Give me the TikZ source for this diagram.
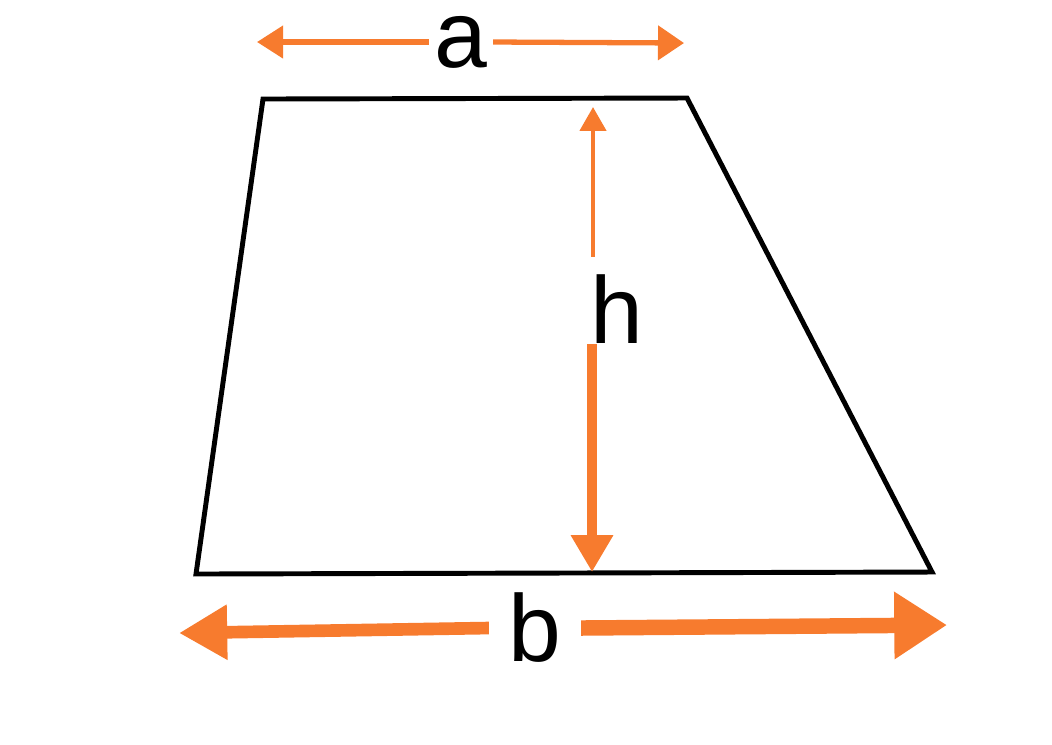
\documentclass[tikz,border=0pt]{standalone}
\usepackage{fontspec}
\setmainfont{Liberation Sans}
\usetikzlibrary{arrows.meta,calc}
\definecolor{carrot}{RGB}{247,123,46}
\tikzset{%
    dimtext/.style={inner sep=0pt, font=\fontsize{27}{32}\selectfont},
    dimline/.style={draw=carrot, line cap=butt}
}

\begin{document}
\begin{tikzpicture}[x=0.01cm,y=-0.01cm]
  \useasboundingbox (0,0) rectangle (1052,744);
  \draw[line width=1.4pt, line join=miter] (263,99) -- (687,98) -- (932,572) -- (196,574) -- cycle;
  % labels
  \node[dimtext, inner xsep=0.05cm] (a) at (461,42) {a};
  \node[dimtext] (h) at (617,309) {h};
  \node[dimtext, inner xsep=0.19cm] (b) at (535,628) {b};
  % free ends
  \coordinate (aL) at (257,42);
  \coordinate (aR) at (684,43);
  \coordinate (hT) at (593,107);
  \coordinate (hB) at (592,572);
  \coordinate (bL) at (179,633);
  \coordinate (bR) at (947,625);
  % arrows
  \draw[dimline, line width=1.5pt, -{Triangle[length=7.4pt,width=9pt]}] (a.west) -- (aL);
  \draw[dimline, line width=1.5pt, -{Triangle[length=7.4pt,width=9.6pt]}] (a.east) -- (aR);
  \draw[dimline, line width=1.2pt, -{Triangle[length=6.8pt,width=7.4pt]}] ($(h.north -| hT)+(0,-17)$) -- (hT);
  \draw[dimline, line width=2.8pt, -{Triangle[length=10.5pt,width=11.4pt]}] (h.south -| hB) -- (hB);
  \draw[dimline, line width=3.6pt, -{Triangle[length=13.7pt,width=14.8pt]}] (b.west) -- (bL);
  \draw[dimline, line width=4.4pt, -{Triangle[length=15pt,width=18.2pt]}] (b.east) -- (bR);
\end{tikzpicture}
\end{document}
